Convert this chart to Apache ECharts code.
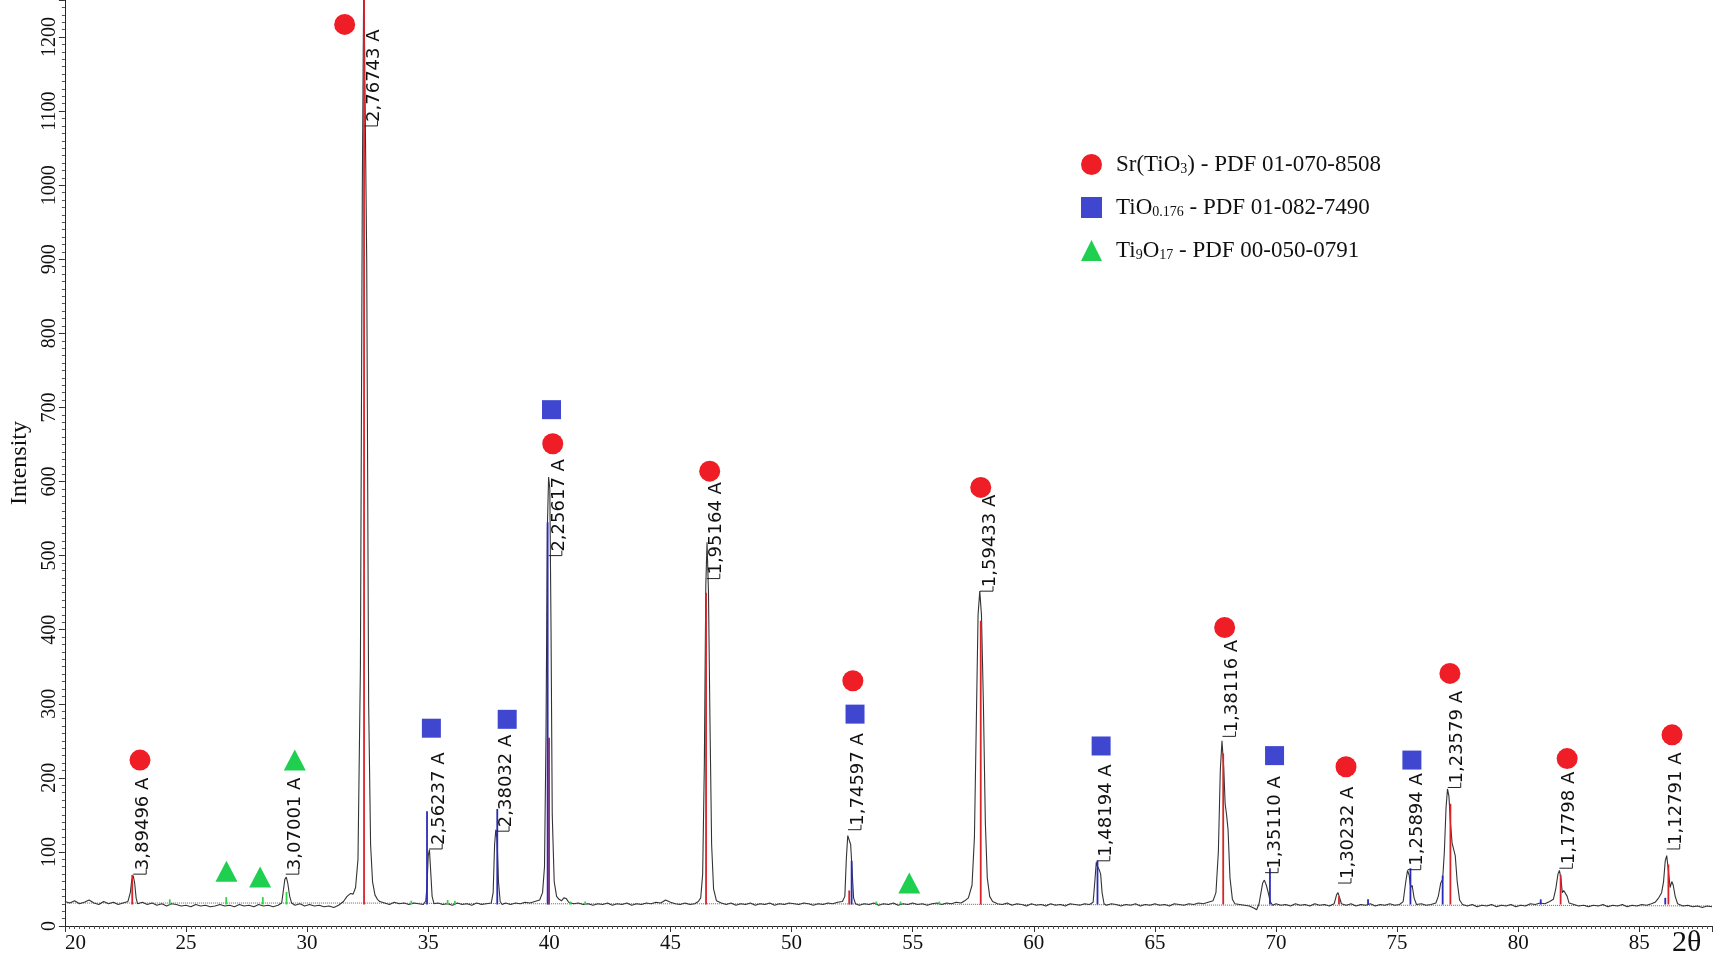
<!DOCTYPE html>
<html>
<head>
<meta charset="utf-8">
<title>XRD</title>
<script src="https://cdn.jsdelivr.net/npm/echarts/dist/echarts.min.js"></script>
<style>
html, body { margin: 0; padding: 0; background: #fff; }
#chart { width: 1718px; height: 958px; }
</style>
</head>
<body>
<div id="chart"></div>
<script>
// measured pattern, [2theta, counts]
var pattern = [
  [20.0,33],[20.2,31],[20.4,34],[20.6,30],[20.8,32],[21.0,35],[21.2,31],[21.4,29],[21.6,33],[21.8,30],[22.0,32],[22.2,29],[22.4,31],[22.6,33],
  [22.7,45],[22.76,62],[22.82,68],[22.88,58],[22.94,38],[23.0,30],
  [23.2,32],[23.4,29],[23.6,31],[23.8,28],[24.0,30],[24.2,27],[24.4,30],[24.6,29],[24.8,27],[25.0,28],[25.2,26],[25.4,29],[25.6,27],[25.8,28],
  [26.0,26],[26.2,27],[26.4,29],[26.6,27],[26.8,28],[27.0,26],[27.2,29],[27.4,27],[27.6,28],[27.8,26],[28.0,29],[28.2,27],[28.4,28],[28.6,26],[28.8,28],[28.95,31],
  [29.02,48],[29.08,63],[29.14,66],[29.2,58],[29.28,40],[29.36,31],
  [29.5,28],[29.7,30],[29.9,27],[30.1,29],[30.3,27],[30.5,28],[30.7,26],[30.9,27],[31.1,25],[31.3,28],[31.5,33],[31.65,40],[31.8,44],[31.9,43],
  [32.0,52],[32.1,90],[32.2,350],[32.28,1000],[32.34,1290],[32.4,1290],[32.46,900],[32.54,300],[32.62,110],[32.7,60],[32.8,42],[32.9,36],[33.0,33],
  [33.2,31],[33.4,29],[33.6,32],[33.8,30],[34.0,31],[34.2,29],[34.4,31],[34.6,30],[34.8,29],[34.9,34],
  [34.95,55],[35.0,95],[35.05,103],[35.1,75],[35.16,40],[35.24,30],
  [35.4,31],[35.6,29],[35.8,30],[36.0,28],[36.2,31],[36.4,29],[36.6,30],[36.8,28],[37.0,31],[37.2,29],[37.4,30],[37.6,31],
  [37.68,45],[37.74,110],[37.79,130],[37.84,118],[37.9,60],[37.97,33],[38.05,29],
  [38.2,31],[38.4,29],[38.6,31],[38.8,30],[39.0,32],[39.2,31],[39.4,33],[39.6,35],
  [39.72,45],[39.8,80],[39.86,250],[39.92,540],[39.97,606],[40.02,590],[40.07,400],[40.12,150],[40.2,60],[40.3,40],[40.4,36],
  [40.5,34],[40.6,38],[40.7,37],[40.8,32],[41.0,30],[41.2,31],[41.4,29],[41.6,30],[41.8,28],[42.0,30],[42.2,29],[42.4,31],[42.6,28],[42.8,30],
  [43.0,29],[43.2,31],[43.4,28],[43.6,30],[43.8,29],[44.0,31],[44.2,30],[44.4,32],[44.6,31],[44.8,35],[45.0,32],[45.2,30],[45.4,29],[45.6,31],
  [45.8,29],[46.0,30],[46.15,33],[46.25,38],
  [46.33,70],[46.4,220],[46.46,460],[46.51,518],[46.57,450],[46.63,280],[46.7,110],[46.78,50],[46.9,34],
  [47.1,31],[47.3,29],[47.5,31],[47.7,28],[47.9,30],[48.1,29],[48.3,31],[48.5,28],[48.7,30],[48.9,29],[49.1,31],[49.3,28],[49.5,30],[49.7,29],
  [49.9,31],[50.1,30],[50.3,29],[50.5,31],[50.7,30],[50.9,28],[51.1,30],[51.3,29],[51.5,31],[51.7,30],[51.9,32],[52.1,33],
  [52.2,40],[52.26,90],[52.32,122],[52.38,121],[52.44,110],[52.5,75],[52.56,38],[52.64,30],
  [52.8,28],[53.0,30],[53.2,29],[53.4,31],[53.6,28],[53.8,30],[54.0,29],[54.2,31],[54.4,28],[54.6,30],[54.8,29],[55.0,31],[55.2,29],[55.4,30],
  [55.6,28],[55.8,30],[56.0,31],[56.2,29],[56.4,31],[56.6,30],[56.8,32],[57.0,31],[57.15,34],[57.3,38],
  [57.45,55],[57.55,120],[57.63,280],[57.7,420],[57.77,452],[57.84,420],[57.92,300],[58.0,140],[58.08,65],[58.18,40],[58.3,33],
  [58.5,30],[58.7,29],[58.9,31],[59.1,28],[59.3,30],[59.5,29],[59.7,27],[59.9,30],[60.1,28],[60.3,29],[60.5,27],[60.7,30],[60.9,28],[61.1,29],
  [61.3,27],[61.5,30],[61.7,29],[61.9,28],[62.1,30],[62.3,29],[62.45,32],
  [62.52,60],[62.58,86],[62.64,80],[62.7,76],[62.76,70],[62.82,45],[62.9,30],
  [63.0,28],[63.2,30],[63.4,29],[63.6,27],[63.8,29],[64.0,28],[64.2,30],[64.4,27],[64.6,29],[64.8,28],[65.0,30],[65.2,28],[65.4,29],[65.6,27],
  [65.8,30],[66.0,29],[66.2,28],[66.4,30],[66.6,29],[66.8,31],[67.0,30],[67.2,32],[67.4,34],
  [67.52,45],[67.62,100],[67.7,210],[67.77,250],[67.84,215],[67.9,165],[67.96,150],[68.02,130],[68.1,65],[68.2,36],[68.3,30],
  [68.5,29],[68.7,28],[68.9,27],[69.1,24],[69.2,22],[69.3,30],[69.38,45],[69.45,58],[69.52,62],[69.6,55],[69.68,45],[69.76,33],[69.86,28],
  [70.0,30],[70.2,28],[70.4,29],[70.6,27],[70.8,30],[71.0,28],[71.2,29],[71.4,27],[71.6,30],[71.8,28],[72.0,29],[72.2,27],[72.4,30],
  [72.5,42],[72.56,45],[72.63,38],[72.7,30],
  [72.9,28],[73.1,30],[73.3,27],[73.5,29],[73.7,28],[73.9,30],[74.1,27],[74.3,29],[74.5,28],[74.7,30],[74.9,28],[75.1,29],[75.25,33],
  [75.35,58],[75.43,75],[75.5,68],[75.56,52],[75.62,55],[75.7,38],[75.8,29],
  [76.0,30],[76.2,28],[76.4,29],[76.6,31],[76.7,40],[76.8,58],[76.88,63],[76.95,100],[77.02,160],[77.08,185],[77.14,175],[77.2,140],
  [77.27,112],[77.33,114],[77.4,95],[77.48,60],[77.58,35],[77.7,29],
  [77.9,27],[78.1,29],[78.3,26],[78.5,28],[78.7,27],[78.9,29],[79.1,26],[79.3,28],[79.5,27],[79.7,29],[79.9,26],[80.1,28],[80.3,27],[80.5,30],
  [80.7,29],[80.9,31],[81.1,30],[81.3,33],[81.45,36],
  [81.55,50],[81.64,70],[81.7,75],[81.76,65],[81.82,45],[81.88,48],[81.95,50],[82.02,40],[82.1,31],
  [82.3,29],[82.5,27],[82.7,28],[82.9,26],[83.1,28],[83.3,27],[83.5,29],[83.7,26],[83.9,28],[84.1,27],[84.3,29],[84.5,26],[84.7,28],[84.9,27],
  [85.1,29],[85.3,28],[85.5,30],[85.65,32],
  [85.8,38],[85.92,45],[86.0,60],[86.07,88],[86.13,95],[86.2,75],[86.27,52],[86.34,60],[86.4,55],[86.48,40],[86.58,30],
  [86.8,27],[87.0,28],[87.2,26],[87.4,27],[87.6,25],[87.8,27],[88.0,26]
];

var background = [[20,31],[32,31],[40,30],[50,30],[60,29],[70,28],[80,28],[88,27]];

// reference pattern sticks [2theta, top]
var redSticks = [[22.78,69],[32.35,1300],[39.99,254],[46.47,450],[52.38,48],[57.81,412],[67.82,233],[72.6,40],[77.2,165],[81.75,69],[86.2,83]];
var blueSticks = [[34.95,155],[37.85,158],[39.93,545],[52.48,88],[62.63,88],[69.75,78],[73.8,36],[75.55,78],[76.88,68],[80.93,36],[86.07,38]];
var greenSticks = [[24.33,36],[26.66,39],[28.17,39],[29.15,46],[34.3,34],[35.8,35],[36.1,34],[40.87,33],[41.48,33],[53.5,33],[54.5,33],[56.1,33]];
var stickBase = 29;

// phase markers
var srTiO3Marks = [[23.1,224],[31.55,1217],[40.14,651],[46.62,614],[52.53,331],[57.81,592],[67.88,403],[72.89,215],[77.18,341],[82.02,226],[86.35,258]];
var tiOMarks = [[35.13,267],[38.26,279],[40.09,697],[52.62,286],[62.78,243],[69.94,230],[75.61,224]];
var ti9O17Marks = [[26.67,74],[28.06,66],[29.49,224],[54.86,58]];

// d-spacing labels [2theta, bracket level, text]
var peakLabels = [
  [22.82,70,'3,89496 A'],[29.12,70,'3,07001 A'],[32.37,1080,'2,76743 A'],[35.04,104,'2,56237 A'],
  [37.8,128,'2,38032 A'],[39.98,500,'2,25617 A'],[46.5,469,'1,95164 A'],[52.33,130,'1,74597 A'],
  [57.78,452,'1,59433 A'],[62.6,88,'1,48194 A'],[67.79,256,'1,38116 A'],[69.55,72,'1,35110 A'],
  [72.56,58,'1,30232 A'],[75.44,76,'1,25894 A'],[77.09,187,'1,23579 A'],[81.7,78,'1,17798 A'],[86.13,104,'1,12791 A']
];

var phaseNames = ['Sr(TiO3) - PDF 01-070-8508', 'TiO0.176 - PDF 01-082-7490', 'Ti9O17 - PDF 00-050-0791'];
var phaseRich = [
  '{g|}{n|Sr(TiO}{s|3}{n|) - PDF 01-070-8508}',
  '{g|}{n|TiO}{s|0.176}{n| - PDF 01-082-7490}',
  '{g|}{n|Ti}{s|9}{n|O}{s|17}{n| - PDF 00-050-0791}'
];

var serif = '"Liberation Serif", "DejaVu Serif", serif';

function stickSeries(data, color) {
  return {
    type: 'custom',
    silent: true,
    z: 4,
    data: data,
    renderItem: function (params, api) {
      var top = api.coord([api.value(0), api.value(1)]);
      var base = api.coord([api.value(0), stickBase]);
      return {
        type: 'line',
        shape: { x1: top[0], y1: base[1], x2: top[0], y2: top[1] },
        style: { stroke: color, lineWidth: 1.8 }
      };
    }
  };
}

var chart = echarts.init(document.getElementById('chart'), null, { renderer: 'canvas' });

var option = {
  animation: false,
  backgroundColor: '#fff',
  grid: { left: 48, right: 6, top: 0, bottom: 30, containLabel: false },
  legend: {
    orient: 'vertical',
    left: 1076,
    top: 148,
    itemWidth: 21,
    itemHeight: 21,
    itemGap: 20,
    selectedMode: false,
    data: [
      { name: phaseNames[0], icon: 'circle' },
      { name: phaseNames[1], icon: 'rect' },
      { name: phaseNames[2], icon: 'triangle' }
    ],
    formatter: function (name) { return phaseRich[phaseNames.indexOf(name)]; },
    textStyle: {
      rich: {
        g: { width: 9 },
        n: { fontFamily: serif, fontSize: 23, color: '#111', verticalAlign: 'bottom' },
        s: { fontFamily: serif, fontSize: 14, color: '#111', verticalAlign: 'bottom' }
      }
    }
  },
  xAxis: {
    type: 'value',
    min: 20,
    max: 88,
    interval: 5,
    name: '2θ',
    nameLocation: 'end',
    nameGap: -40,
    nameTextStyle: { fontFamily: serif, fontSize: 30, color: '#111', verticalAlign: 'top', padding: [2, 0, 0, 0] },
    splitLine: { show: false },
    axisLine: { lineStyle: { color: '#222', width: 1 } },
    axisTick: { length: 6, lineStyle: { color: '#333' } },
    minorTick: { show: true, splitNumber: 25, length: 3, lineStyle: { color: '#555' } },
    axisLabel: { margin: 7, fontFamily: serif, fontSize: 21, color: '#111', showMaxLabel: false, alignMinLabel: 'left' }
  },
  yAxis: {
    type: 'value',
    min: 0,
    max: 1250,
    interval: 100,
    name: 'Intensity',
    nameLocation: 'middle',
    nameRotate: 90,
    nameGap: 32,
    nameTextStyle: { fontFamily: serif, fontSize: 24, color: '#111' },
    splitLine: { show: false },
    axisLine: { show: true, lineStyle: { color: '#222', width: 1 } },
    axisTick: { show: true, length: 6, lineStyle: { color: '#333' } },
    minorTick: { show: true, splitNumber: 10, length: 3, lineStyle: { color: '#555' } },
    axisLabel: {
      rotate: 90, margin: 5, fontFamily: serif, fontSize: 20, color: '#111', showMaxLabel: false,
      formatter: function (v) { return String(v); }
    }
  },
  series: [
    {
      type: 'line',
      data: background,
      symbol: 'none',
      silent: true,
      z: 1,
      lineStyle: { color: '#666', width: 1, type: 'dotted' }
    },
    {
      type: 'line',
      data: pattern,
      symbol: 'none',
      silent: true,
      z: 2,
      lineStyle: { color: '#333', width: 1.1 }
    },
    stickSeries(redSticks, '#d8232a'),
    stickSeries(blueSticks, '#2a2ab8'),
    stickSeries(greenSticks, '#35d24a'),
    {
      type: 'custom',
      silent: true,
      z: 5,
      data: peakLabels.map(function (d) { return [d[0], d[1]]; }),
      renderItem: function (params, api) {
        var p = api.coord([api.value(0), api.value(1)]);
        return {
          type: 'group',
          children: [
            {
              type: 'polyline',
              shape: { points: [[p[0], p[1]], [p[0] + 13, p[1]], [p[0] + 13, p[1] - 5]] },
              style: { stroke: '#222', lineWidth: 1, fill: 'none' }
            },
            {
              type: 'text',
              x: p[0] + 10,
              y: p[1] - 4,
              rotation: Math.PI / 2,
              style: {
                text: peakLabels[params.dataIndex][2],
                fill: '#111',
                font: '18px "DejaVu Sans", sans-serif',
                align: 'left',
                verticalAlign: 'middle'
              }
            }
          ]
        };
      }
    },
    {
      name: phaseNames[0],
      type: 'scatter',
      data: srTiO3Marks,
      symbol: 'circle',
      symbolSize: 21,
      z: 6,
      itemStyle: { color: '#ef1d26', opacity: 1 }
    },
    {
      name: phaseNames[1],
      type: 'scatter',
      data: tiOMarks,
      symbol: 'rect',
      symbolSize: 19,
      z: 6,
      itemStyle: { color: '#3f47d1', opacity: 1 }
    },
    {
      name: phaseNames[2],
      type: 'scatter',
      data: ti9O17Marks,
      symbol: 'triangle',
      symbolSize: [22, 21],
      z: 6,
      itemStyle: { color: '#1fcf50', opacity: 1 }
    }
  ]
};

chart.setOption(option);
</script>
</body>
</html>
